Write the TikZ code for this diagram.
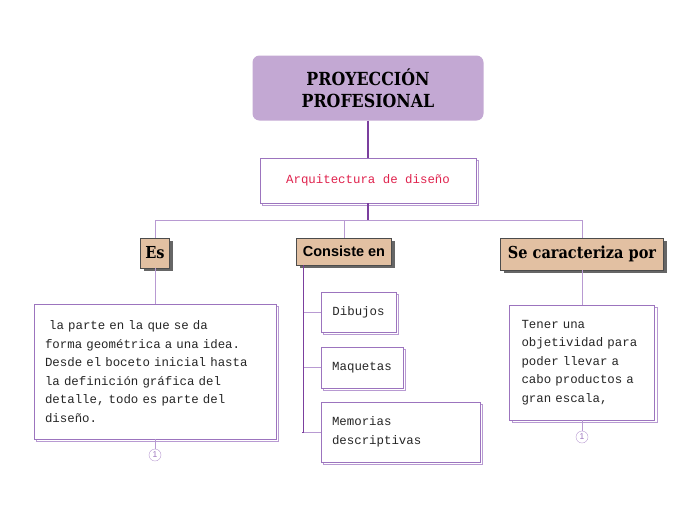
\documentclass[tikz,border=0pt]{standalone}
\usepackage{fontspec}
\setmainfont{DejaVu Serif}
\setsansfont{Liberation Sans}
\setmonofont{Liberation Mono}
\newfontfamily\slabfont[FakeStretch=0.88]{DejaVu Serif}
\usetikzlibrary{shadows}
\definecolor{titlelila}{HTML}{C3A8D3}
\definecolor{lineadark}{HTML}{7B3F9E}
\definecolor{linealight}{HTML}{B89AD2}
\definecolor{bordelila}{HTML}{9C74BE}
\definecolor{cafe}{HTML}{E2C0A2}
\definecolor{rojo}{HTML}{E0234E}

\tikzset{
  caja/.style={draw=bordelila, fill=white, line width=0.8pt, text=black!85,
    font=\ttfamily\fontsize{12.4}{18.6}\selectfont, align=left, inner xsep=11pt,
    copy shadow={shadow xshift=2.5pt, shadow yshift=-2.5pt, draw=linealight, fill=white}},
  etiqueta/.style={draw=black!70, fill=cafe, line width=0.6pt, inner sep=0pt,
    drop shadow={shadow xshift=3pt, shadow yshift=-3pt, opacity=1, fill=black!60}},
  linea/.style={draw=linealight, line width=1pt},
  nota/.style={circle, draw=linealight, fill=white, minimum size=12pt, inner sep=0pt,
    font=\sffamily\fontsize{8.5}{8.5}\selectfont, text=bordelila}
}

\begin{document}
\begin{tikzpicture}[x=1pt, y=-1pt]
  \useasboundingbox (0,0) rectangle (696,520);
  % titulo y tema
  \node[fill=titlelila, rounded corners=7pt, minimum width=231pt, minimum height=65pt,
    align=center, font=\slabfont\bfseries\fontsize{18}{21.7}\selectfont]
    (titulo) at (368,88) {PROYECCIÓN\\PROFESIONAL};
  \node[caja, minimum width=216pt, minimum height=45pt, text=rojo]
    (arq) at (368,180.5) {Arquitectura de diseño};
  % etiquetas
  \node[etiqueta, minimum width=29pt, minimum height=30pt,
    font=\slabfont\bfseries\fontsize{16.5}{18}\selectfont] (es) at (155,253) {Es};
  \node[etiqueta, minimum width=95pt, minimum height=27pt,
    font=\sffamily\bfseries\fontsize{14.5}{16}\selectfont] (cons) at (344,251.5) {Consiste en};
  \node[etiqueta, minimum width=163pt, minimum height=32pt,
    font=\slabfont\bfseries\fontsize{16.5}{18}\selectfont] (se) at (582,254) {Se caracteriza por};
  % contenidos
  \node[caja, text width=220pt, minimum height=135pt] (estxt) at (155,371.5)
    {~la parte en la que se da\\forma geométrica a una idea.\\Desde el boceto inicial hasta\\la definición gráfica del\\detalle, todo es parte del\\diseño.};
  \node[caja, minimum width=75pt, minimum height=40pt] (dib) at (358.5,312) {Dibujos};
  \node[caja, minimum width=82pt, minimum height=41pt] (maq) at (362,367.5) {Maquetas};
  \node[caja, text width=137pt, minimum height=60pt] (mem) at (400.5,432) {Memorias\\descriptivas};
  \node[caja, text width=121pt, inner xsep=12pt, minimum height=115pt] (tener) at (582,362.5)
    {Tener una\\objetividad para\\poder llevar a\\cabo productos a\\gran escala,};
  \node[nota] (n1) at (155,455) {1};
  \node[nota] (n2) at (582,437) {1};
  % conectores
  \draw[lineadark, line width=1.3pt] (titulo.south) -- (arq.north);
  \draw[lineadark, line width=1.3pt] (arq.south) -- ++(0,17) coordinate (hub);
  \draw[linea] (es.north) |- (hub) -| (se.north);
  \draw[linea] (cons.north) |- (hub);
  \draw[linea] (es.south) -- (estxt.north);
  \draw[linea] (estxt.south) -- (n1.north);
  \draw[linea] (se.south) -- (tener.north);
  \draw[linea] (tener.south) -- (n2.north);
  \foreach \n in {dib,maq,mem}
    \draw[linea] ([xshift=7pt]cons.south west) |- (\n.west);
  \draw[lineadark, line width=1pt] ([xshift=7pt]cons.south west) |- ([xshift=-19pt]mem.west);
\end{tikzpicture}
\end{document}
